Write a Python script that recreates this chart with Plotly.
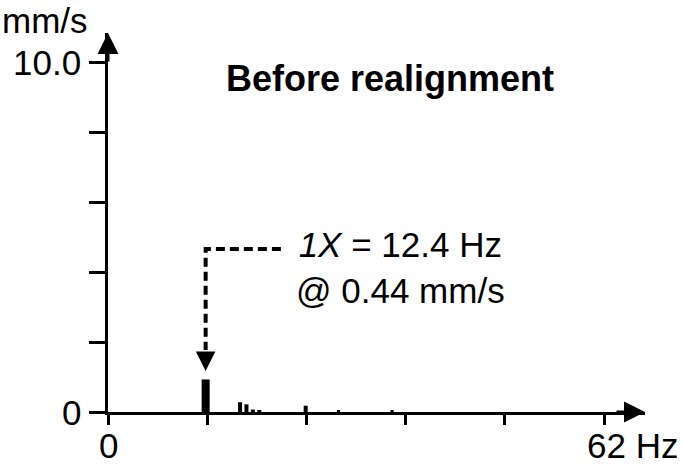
import plotly.graph_objects as go

# spectrum lines as drawn (Hz, mm/s)
freqs = [12.2, 16.5, 17.3, 18.1, 18.9, 24.7, 28.8, 35.5]
amps = [0.93, 0.28, 0.22, 0.07, 0.03, 0.18, 0.03, 0.03]
bar_widths = [1.0, 0.5, 0.5, 0.5, 0.5, 0.5, 0.4, 0.4]

x_ticks = [0, 12.4, 24.8, 37.2, 49.6, 62]
y_ticks = [0, 2, 4, 6, 8, 10]
y_ticktext = ["0", "", "", "", "", "10.0"]

title_text = "<b>Before realignment</b>"
callout_text = "<i>1X</i> = 12.4 Hz<br>@ 0.44 mm/s"
callout_y = 4.66      # level of the dashed leader
callout_x_end = 21.6  # where the leader stops, left of the text

x_max = 67.1
y_max = 10.83
FONT = "Liberation Sans, Arial, sans-serif"

peak_x = freqs[0]
peak_y = amps[0]
tip_y = peak_y + 0.24
head_base = tip_y + 0.6

fig = go.Figure()

fig.add_trace(go.Bar(x=freqs, y=amps, width=bar_widths,
                     marker=dict(color="black", line=dict(width=0))))

# dashed leader line to the 1X peak
fig.add_trace(go.Scatter(x=[callout_x_end, peak_x, peak_x],
                         y=[callout_y, callout_y, head_base],
                         mode="lines",
                         line=dict(color="black", width=4, dash="9px,5px")))

ann = []
# callout arrowhead
ann.append(dict(x=peak_x, y=tip_y, ax=0, ay=-14, showarrow=True, text="",
                arrowhead=2, arrowsize=1.3, arrowwidth=3, arrowcolor="black"))
# axis arrowheads
ann.append(dict(x=x_max, y=0, ax=-30, ay=0, showarrow=True, text="",
                arrowhead=2, arrowsize=1.4, arrowwidth=3, arrowcolor="black"))
ann.append(dict(x=0, y=y_max, ax=0, ay=30, showarrow=True, text="",
                arrowhead=2, arrowsize=1.4, arrowwidth=3, arrowcolor="black"))

ann.append(dict(text=title_text, xref="paper", yref="paper", x=0.525, y=0.88,
                xanchor="center", yanchor="middle", showarrow=False,
                font=dict(size=36)))
ann.append(dict(text=callout_text, xref="paper", yref="paper", x=0.544, y=0.381,
                xanchor="center", yanchor="middle", showarrow=False, align="center",
                font=dict(size=35)))
# y labels
ann.append(dict(text="mm/s", xref="paper", yref="paper", x=0, y=1, xshift=-18, yshift=13,
                xanchor="right", yanchor="middle", showarrow=False, font=dict(size=35)))
for v, t in zip(y_ticks, y_ticktext):
    if t:
        ann.append(dict(text=t, xref="paper", yref="y", x=0, y=v, xshift=-25,
                        xanchor="right", yanchor="middle", showarrow=False,
                        font=dict(size=35)))
# x labels
ann.append(dict(text="0", xref="x", yref="paper", x=x_ticks[0], y=0, yshift=-33,
                xanchor="center", yanchor="middle", showarrow=False, font=dict(size=35)))
ann.append(dict(text="62 Hz", xref="x", yref="paper", x=x_ticks[-1], y=0, yshift=-33,
                xshift=-19.5, xanchor="left", yanchor="middle", showarrow=False,
                font=dict(size=35)))

fig.update_layout(
    width=686, height=464,
    margin=dict(l=108, r=41, t=33, b=52, autoexpand=False),
    paper_bgcolor="white", plot_bgcolor="white",
    showlegend=False,
    font=dict(family=FONT, color="black"),
    annotations=ann,
    xaxis=dict(range=[0, x_max], showgrid=False, zeroline=False,
               showline=True, linecolor="black", linewidth=3,
               ticks="outside", ticklen=10, tickwidth=3, tickcolor="black",
               tickvals=x_ticks, ticktext=[""] * len(x_ticks)),
    yaxis=dict(range=[0, y_max], showgrid=False, zeroline=False,
               showline=True, linecolor="black", linewidth=3,
               ticks="outside", ticklen=16, tickwidth=3, tickcolor="black",
               tickvals=y_ticks, ticktext=[""] * len(y_ticks)),
)

# drop the page's default body margin so the figure fills the window
fig.write_html("out.html", config={"displayModeBar": False},
               post_script="document.body.style.margin='0';")
